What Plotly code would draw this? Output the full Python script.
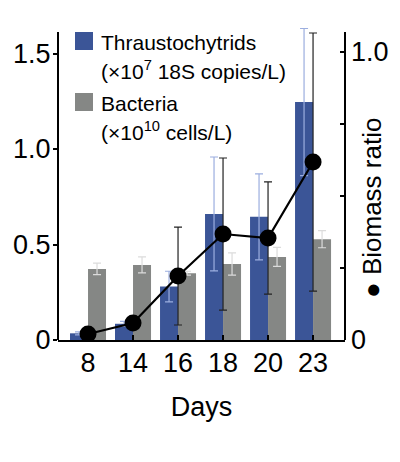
import plotly.graph_objects as go

days = ["8", "14", "16", "18", "20", "23"]
thrausto = [0.035, 0.085, 0.28, 0.66, 0.645, 1.246]
thrausto_err = [0.008, 0.012, 0.08, 0.298, 0.225, 0.385]
bacteria = [0.372, 0.393, 0.35, 0.398, 0.435, 0.528]
bacteria_err = [0.03, 0.042, 0.01, 0.058, 0.05, 0.045]
ratio = [0.021, 0.059, 0.222, 0.368, 0.354, 0.618]
ratio_err = [0.005, 0.008, 0.17, 0.264, 0.195, 0.448]

left_ticks = [0, 0.5, 1.0, 1.5]
left_ticklabels = ["0", "0.5", "1.0", "1.5"]
right_ticks = [0, 1.0]
right_ticklabels = ["0", "1.0"]

BLUE = "#3B5597"
GRAY = "#858785"
FONT = "Liberation Sans, Arial, Helvetica, sans-serif"

fig = go.Figure()
fig.add_trace(go.Bar(
    x=days, y=thrausto, name="Thraustochytrids", marker_color=BLUE,
    marker_line_width=0,
    error_y=dict(type="data", array=thrausto_err, color="#9CAEDF",
                 thickness=1.2, width=4),
))
fig.add_trace(go.Bar(
    x=days, y=bacteria, name="Bacteria", marker_color=GRAY,
    marker_line_width=0,
    error_y=dict(type="data", array=bacteria_err, color="#DCDCDC",
                 thickness=1.2, width=4),
))
fig.add_trace(go.Scatter(
    x=days, y=ratio, yaxis="y2", mode="lines+markers", name="Biomass ratio",
    line=dict(color="black", width=2.2),
    marker=dict(color="black", size=17),
    error_y=dict(type="data", array=ratio_err, color="#222222",
                 thickness=1.2, width=4),
))

# page body has an 8px margin: the figure is drawn 8px right and down
OFF = 8
W, H = 400 - OFF, 462 - OFF
PLOT_TOP = 26          # plot area top (page px), lets the day-23 caps show
AXIS_TOP = 32          # where the drawn axis lines end (page px)
L, R, T, B = 58 - OFF, 55, PLOT_TOP - OFF, 122
pw, ph = W - L - R, H - T - B
Y0 = 340               # page px of value 0

def px(x):
    return (x - OFF - L) / pw

def py(y):
    return (Y0 - y) / ph

left_top = (Y0 - PLOT_TOP) / 191.0
right_top = (Y0 - PLOT_TOP) / 288.0

shapes = [
    dict(type="rect", xref="paper", yref="paper", x0=px(75), x1=px(93),
         y0=py(50), y1=py(32), fillcolor=BLUE, line_width=0),
    dict(type="rect", xref="paper", yref="paper", x0=px(75), x1=px(93),
         y0=py(111), y1=py(93), fillcolor=GRAY, line_width=0),
    # vertical axis lines
    dict(type="line", xref="paper", yref="paper", x0=0, x1=0,
         y0=0, y1=py(AXIS_TOP), line=dict(color="black", width=2)),
    dict(type="line", xref="paper", yref="paper", x0=1, x1=1,
         y0=0, y1=py(AXIS_TOP), line=dict(color="black", width=2)),
]

legend_lines = [
    ("Thraustochytrids", 42),
    ("(×10<sup>7</sup> 18S copies/L)", 70),
    ("Bacteria", 104),
    ("(×10<sup>10</sup> cells/L)", 131),
]
annotations = []
for txt, yy in legend_lines:
    annotations.append(dict(
        text=txt, xref="paper", yref="paper", x=px(99), y=py(yy),
        xanchor="left", yanchor="middle", showarrow=False,
        font=dict(size=21, color="black", family=FONT),
    ))
annotations.append(dict(
    text="● Biomass ratio", xref="paper", yref="paper", x=px(372), y=py(208),
    xanchor="center", yanchor="middle", textangle=-90, showarrow=False,
    font=dict(size=26, color="black", family=FONT),
))

fig.update_layout(
    width=W, height=H,
    margin=dict(l=L, r=R, t=T, b=B, pad=0, autoexpand=False),
    paper_bgcolor="white", plot_bgcolor="white",
    barmode="group", bargap=0.2, bargroupgap=0,
    showlegend=False,
    font=dict(family=FONT, color="black", size=27),
    shapes=shapes, annotations=annotations,
    xaxis=dict(
        type="category", range=[-0.667, 5.71],
        showline=True, linecolor="black", linewidth=2,
        ticks="inside", ticklen=5, tickwidth=1.5, tickcolor="black",
        tickfont=dict(size=27), showgrid=False, zeroline=False,
        ticklabelstandoff=-2,
        title=dict(text="Days", font=dict(size=27), standoff=20),
    ),
    yaxis=dict(
        range=[0, left_top], tickvals=left_ticks, ticktext=left_ticklabels,
        showline=False,
        ticks="outside", ticklen=4, tickwidth=1.5, tickcolor="black",
        tickfont=dict(size=27), showgrid=False, zeroline=False,
        ticklabelstandoff=-3,
    ),
    yaxis2=dict(
        overlaying="y", side="right", range=[0, right_top],
        tickvals=right_ticks, ticktext=right_ticklabels,
        showline=False,
        ticks="inside", ticklen=5, tickwidth=1.5, tickcolor="black",
        minor=dict(ticks="inside", ticklen=5, tickwidth=1.5, tickcolor="black",
                   dtick=0.25, tick0=0),
        tickfont=dict(size=27), showgrid=False, zeroline=False,
        ticklabelstandoff=5,
    ),
)

fig.write_html("out.html")
